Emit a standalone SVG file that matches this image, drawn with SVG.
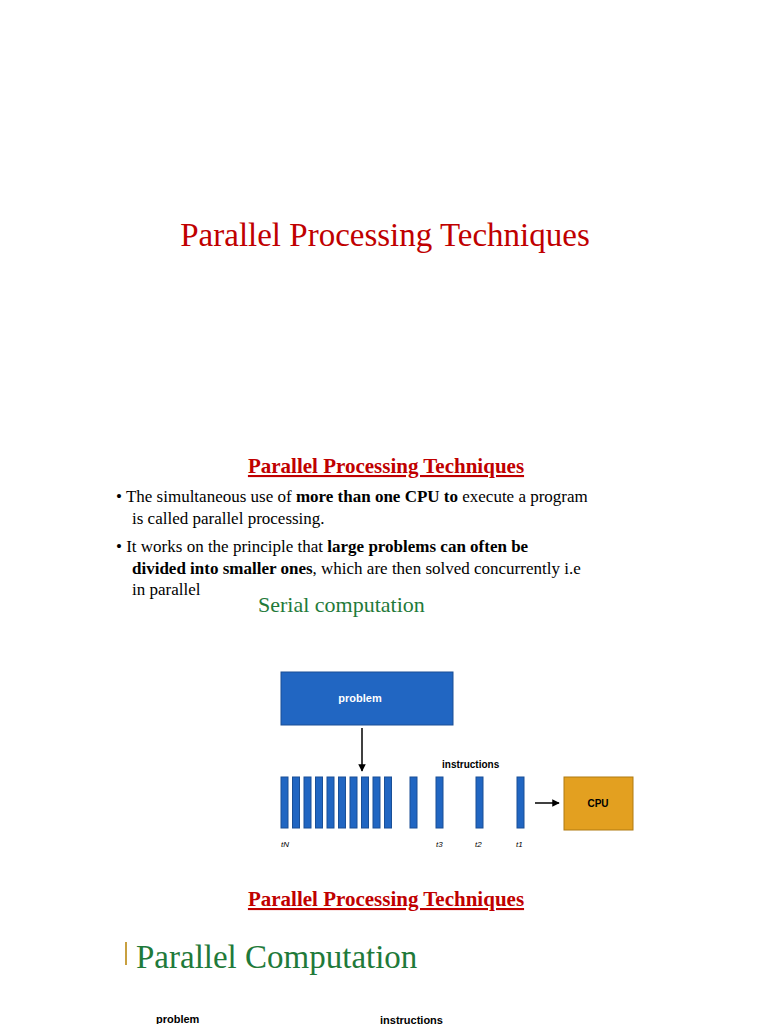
<svg xmlns="http://www.w3.org/2000/svg" width="768" height="1024" viewBox="0 0 768 1024">
<defs>
<style>
.serif{font-family:"Liberation Serif",serif}
.sans{font-family:"Liberation Sans",sans-serif}
.red{fill:#c00000}
.bar{fill:#2166c2;stroke:#1a4f96;stroke-width:1}
.body{font-size:17px;fill:#000}
</style>
<marker id="ah" viewBox="0 0 10 10" refX="9" refY="5" markerWidth="5" markerHeight="5" orient="auto"><path d="M0,0 L10,5 L0,10 z" fill="#000"/></marker>
</defs>
<rect width="768" height="1024" fill="#fff"/>
<text x="385" y="246" text-anchor="middle" class="serif red" font-size="33">Parallel Processing Techniques</text>
<text x="386" y="473" text-anchor="middle" class="serif red" font-size="21" font-weight="bold" text-decoration="underline">Parallel Processing Techniques</text>
<g class="serif body">
<text x="116" y="502">• The simultaneous use of <tspan font-weight="bold">more than one CPU to</tspan> execute a program</text>
<text x="132" y="524">is called parallel processing.</text>
<text x="116" y="552">•  It works on the principle that <tspan font-weight="bold">large problems can often be</tspan></text>
<text x="132" y="574"><tspan font-weight="bold">divided into smaller ones</tspan>, which are then solved concurrently i.e</text>
<text x="132" y="595">in parallel</text>
</g>
<text x="258" y="612" class="serif" font-size="22" fill="#1f7a3a">Serial computation</text>
<g id="problem"><rect x="281" y="672" width="172" height="53" fill="#2166c2" stroke="#1a4f96"/><text x="360" y="702" text-anchor="middle" class="sans" font-size="11" font-weight="bold" fill="#fff">problem</text></g>
<g id="bars">
<rect class="bar" x="281" y="777" width="7" height="51"/><rect class="bar" x="292.5" y="777" width="7" height="51"/><rect class="bar" x="304" y="777" width="7" height="51"/><rect class="bar" x="315.5" y="777" width="7" height="51"/><rect class="bar" x="327" y="777" width="7" height="51"/><rect class="bar" x="338.5" y="777" width="7" height="51"/><rect class="bar" x="350" y="777" width="7" height="51"/><rect class="bar" x="361.5" y="777" width="7" height="51"/><rect class="bar" x="373" y="777" width="7" height="51"/><rect class="bar" x="384.5" y="777" width="7" height="51"/>
<rect class="bar" x="410" y="777" width="7" height="51"/><rect class="bar" x="436" y="777" width="7" height="51"/><rect class="bar" x="476" y="777" width="7" height="51"/><rect class="bar" x="517" y="777" width="7" height="51"/>
</g>
<g class="sans" font-size="8" font-style="italic" fill="#000"><text x="281" y="847">tN</text><text x="436" y="847">t3</text><text x="475" y="847">t2</text><text x="516" y="847">t1</text></g>
<text x="442" y="768" class="sans" font-size="10" font-weight="bold">instructions</text>
<g id="cpu"><rect x="564" y="777" width="69" height="53" fill="#e3a020" stroke="#b07a10"/><text x="598" y="807" text-anchor="middle" class="sans" font-size="10" font-weight="bold">CPU</text></g>
<g id="connectors" stroke="#000" stroke-width="1.5">
<line x1="362" y1="728" x2="362" y2="771" marker-end="url(#ah)"/>
<line x1="535" y1="803" x2="559" y2="803" marker-end="url(#ah)"/>
</g>
<text x="386" y="906" text-anchor="middle" class="serif red" font-size="21" font-weight="bold" text-decoration="underline">Parallel Processing Techniques</text>
<rect x="125" y="942" width="2" height="23" fill="#c8a040"/>
<text x="136" y="968" class="serif" font-size="33" fill="#1f7a3a">Parallel Computation</text>
<text x="156" y="1023" class="sans" font-size="11" font-weight="bold">problem</text>
<text x="380" y="1024" class="sans" font-size="11" font-weight="bold">instructions</text>
</svg>
